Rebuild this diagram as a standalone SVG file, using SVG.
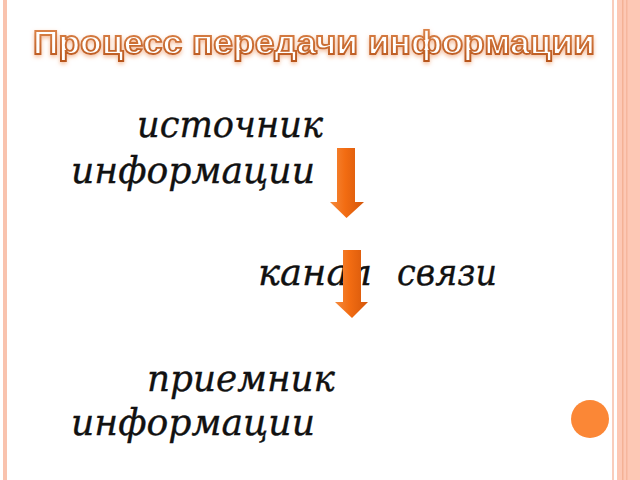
<svg xmlns="http://www.w3.org/2000/svg" width="640" height="480" viewBox="0 0 640 480">
<defs>
<linearGradient id="arrowGrad" x1="0" y1="0" x2="1" y2="0">
<stop offset="0" stop-color="#f58a3c"/>
<stop offset="0.45" stop-color="#f26c12"/>
<stop offset="1" stop-color="#d4560a"/>
</linearGradient>
<linearGradient id="titleStroke" x1="0" y1="0" x2="0" y2="1">
<stop offset="0" stop-color="#e08a50"/>
<stop offset="1" stop-color="#b8561c"/>
</linearGradient>
<filter id="glow" x="-10%" y="-30%" width="120%" height="160%">
<feGaussianBlur in="SourceAlpha" stdDeviation="2"/>
<feOffset dx="0" dy="2" result="b"/>
<feFlood flood-color="#f0a070" flood-opacity="0.7"/>
<feComposite in2="b" operator="in"/>
<feMerge><feMergeNode/><feMergeNode in="SourceGraphic"/></feMerge>
</filter>
</defs>
<style>
.body{font-family:"DejaVu Serif","Liberation Serif",serif;font-style:italic;font-size:38px;fill:#111;stroke:#111;stroke-width:0.35}
.arrow{fill:url(#arrowGrad)}
</style>
<rect width="640" height="480" fill="#fff"/>
<g id="frame">
<rect x="3" y="0" width="4" height="480" fill="#f9c3ae"/>
<rect x="612" y="0" width="2" height="480" fill="#f9cdbc"/>
<rect x="617" y="0" width="23" height="480" fill="#fdc8b5"/>
<rect x="622" y="0" width="1.5" height="480" fill="#f4b195"/>
<rect x="626" y="0" width="1.5" height="480" fill="#f6b69d"/>
</g>
<g id="title">
<text x="33" y="54" font-family="Liberation Sans, Arial, sans-serif" font-weight="bold" font-size="33" textLength="562" lengthAdjust="spacingAndGlyphs" fill="#fff" stroke="url(#titleStroke)" stroke-width="1.8" filter="url(#glow)">Процесс передачи информации</text>
</g>
<g id="source">
<text class="body" x="137" y="137" textLength="186" lengthAdjust="spacingAndGlyphs">источник</text>
<text class="body" x="71" y="183" textLength="244" lengthAdjust="spacingAndGlyphs">информации</text>
</g>
<g id="channel">
<text class="body" y="285"><tspan x="258" textLength="114" lengthAdjust="spacingAndGlyphs">канал</tspan><tspan x="397" textLength="100" lengthAdjust="spacingAndGlyphs">связи</tspan></text>
</g>
<g id="receiver">
<text class="body" x="147" y="391" textLength="188" lengthAdjust="spacingAndGlyphs">приемник</text>
<text class="body" x="71" y="435" textLength="244" lengthAdjust="spacingAndGlyphs">информации</text>
</g>
<g id="connectors">
<path class="arrow" d="M337 148 H355 V202 H364 L346.5 218 L330 202 H337 Z"/>
<path class="arrow" d="M343 250 H361 V302 H368 L352 318 L335 302 H343 Z"/>
</g>
<g id="dot">
<circle cx="590" cy="419" r="19" fill="#fb8736"/>
</g>
</svg>
